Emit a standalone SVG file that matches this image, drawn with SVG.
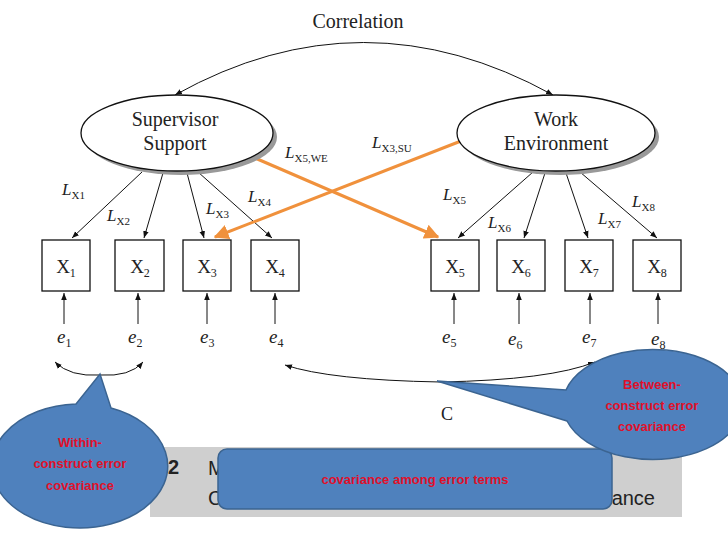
<svg xmlns="http://www.w3.org/2000/svg" width="728" height="546" viewBox="0 0 728 546">
<defs>
<marker id="a" viewBox="0 0 10 10" refX="10" refY="5" markerWidth="7" markerHeight="7" orient="auto-start-reverse"><path d="M0,1 L10,5 L0,9 z" fill="#111"/></marker>
<marker id="o" viewBox="0 0 10 10" refX="9" refY="5" markerWidth="5" markerHeight="5" orient="auto"><path d="M0,0 L10,5 L0,10 z" fill="#f0913c"/></marker>
</defs>
<style>
.s{font-family:"Liberation Serif",serif;fill:#222}
.i{font-style:italic}
.b{fill:#fff;stroke:#111;stroke-width:1.3}
.l{fill:none;stroke:#111;stroke-width:1;marker-end:url(#a)}
.c{fill:#4f81bd;stroke:#3b6491;stroke-width:1.5}
.r{font-family:"Liberation Sans",sans-serif;font-weight:bold;fill:#e0102a;font-size:13px}
</style>
<rect width="728" height="546" fill="#fff"/>
<text class="s" x="358" y="28" font-size="20" text-anchor="middle">Correlation</text>
<g id="connectors">
<path class="l" d="M175,95 Q363,-10 553,95" style="marker-start:url(#a)"/>
<path class="l" d="M142,172 L72,238"/>
<path class="l" d="M163,173 L144,238"/>
<path class="l" d="M187,173 L204,238"/>
<path class="l" d="M198,172 L272,238"/>
<path class="l" d="M533,172 L458,238"/>
<path class="l" d="M545,173 L524,238"/>
<path class="l" d="M566,173 L588,238"/>
<path class="l" d="M580,172 L657,238"/>
<path class="l" d="M64,324 L64,293"/><path class="l" d="M138,324 L138,293"/><path class="l" d="M207,324 L207,293"/><path class="l" d="M275,324 L275,293"/>
<path class="l" d="M454,324 L454,293"/><path class="l" d="M519,324 L519,293"/><path class="l" d="M590,324 L590,293"/><path class="l" d="M658,324 L658,293"/>
<path class="l" d="M100,375 Q70,377 55,362" /><path class="l" d="M100,375 Q130,377 143,362"/>
<path class="l" d="M440,382 Q330,380 285,365"/><path class="l" d="M440,382 Q550,380 595,362"/>
<path d="M255,158 L438,237" stroke="#f0913c" stroke-width="3" fill="none" marker-end="url(#o)"/>
<path d="M461,141 L215,237" stroke="#f0913c" stroke-width="3" fill="none" marker-end="url(#o)"/>
</g>
<g id="supervisor">
<ellipse cx="181" cy="137" rx="96" ry="38" fill="#999"/>
<ellipse cx="177" cy="133" rx="96" ry="38" class="b"/>
<text class="s" x="175" y="126" font-size="20" text-anchor="middle">Supervisor</text>
<text class="s" x="175" y="150" font-size="20" text-anchor="middle">Support</text>
</g>
<g id="work">
<ellipse cx="560" cy="137" rx="99" ry="38" fill="#999"/>
<ellipse cx="556" cy="133" rx="99" ry="38" class="b"/>
<text class="s" x="556" y="126" font-size="20" text-anchor="middle">Work</text>
<text class="s" x="556" y="150" font-size="20" text-anchor="middle">Environment</text>
</g>
<g class="s" font-size="17">
<text x="62" y="195" class="i">L<tspan font-size="11" font-style="normal" dy="4">X1</tspan></text>
<text x="107" y="221" class="i">L<tspan font-size="11" font-style="normal" dy="4">X2</tspan></text>
<text x="206" y="214" class="i">L<tspan font-size="11" font-style="normal" dy="4">X3</tspan></text>
<text x="248" y="202" class="i">L<tspan font-size="11" font-style="normal" dy="4">X4</tspan></text>
<text x="285" y="158" class="i">L<tspan font-size="11" font-style="normal" dy="4">X5,WE</tspan></text>
<text x="372" y="148" class="i">L<tspan font-size="11" font-style="normal" dy="4">X3,SU</tspan></text>
<text x="443" y="200" class="i">L<tspan font-size="11" font-style="normal" dy="4">X5</tspan></text>
<text x="488" y="228" class="i">L<tspan font-size="11" font-style="normal" dy="4">X6</tspan></text>
<text x="598" y="224" class="i">L<tspan font-size="11" font-style="normal" dy="4">X7</tspan></text>
<text x="632" y="207" class="i">L<tspan font-size="11" font-style="normal" dy="4">X8</tspan></text>
</g>
<g id="X1"><rect class="b" x="42" y="240" width="48" height="51"/><text class="s" x="66" y="273" font-size="19" text-anchor="middle">X<tspan font-size="12" dy="4">1</tspan></text></g>
<g id="X2"><rect class="b" x="115" y="240" width="49" height="51"/><text class="s" x="140" y="273" font-size="19" text-anchor="middle">X<tspan font-size="12" dy="4">2</tspan></text></g>
<g id="X3"><rect class="b" x="183" y="240" width="48" height="51"/><text class="s" x="207" y="273" font-size="19" text-anchor="middle">X<tspan font-size="12" dy="4">3</tspan></text></g>
<g id="X4"><rect class="b" x="251" y="240" width="48" height="51"/><text class="s" x="275" y="273" font-size="19" text-anchor="middle">X<tspan font-size="12" dy="4">4</tspan></text></g>
<g id="X5"><rect class="b" x="431" y="240" width="48" height="51"/><text class="s" x="455" y="273" font-size="19" text-anchor="middle">X<tspan font-size="12" dy="4">5</tspan></text></g>
<g id="X6"><rect class="b" x="497" y="240" width="48" height="51"/><text class="s" x="521" y="273" font-size="19" text-anchor="middle">X<tspan font-size="12" dy="4">6</tspan></text></g>
<g id="X7"><rect class="b" x="565" y="240" width="48" height="51"/><text class="s" x="589" y="273" font-size="19" text-anchor="middle">X<tspan font-size="12" dy="4">7</tspan></text></g>
<g id="X8"><rect class="b" x="633" y="240" width="48" height="51"/><text class="s" x="657" y="273" font-size="19" text-anchor="middle">X<tspan font-size="12" dy="4">8</tspan></text></g>
<g class="s" font-size="19" font-style="italic">
<text x="57" y="343">e<tspan font-size="12" font-style="normal" dy="4">1</tspan></text>
<text x="128" y="343">e<tspan font-size="12" font-style="normal" dy="4">2</tspan></text>
<text x="200" y="343">e<tspan font-size="12" font-style="normal" dy="4">3</tspan></text>
<text x="269" y="343">e<tspan font-size="12" font-style="normal" dy="4">4</tspan></text>
<text x="442" y="343">e<tspan font-size="12" font-style="normal" dy="4">5</tspan></text>
<text x="508" y="345">e<tspan font-size="12" font-style="normal" dy="4">6</tspan></text>
<text x="582" y="343">e<tspan font-size="12" font-style="normal" dy="4">7</tspan></text>
<text x="651" y="345">e<tspan font-size="12" font-style="normal" dy="4">8</tspan></text>
</g>
<text class="s" x="447" y="420" font-size="18" text-anchor="middle">C</text>
<rect x="150" y="447" width="532" height="70" fill="#cfcfcf"/>
<text x="168" y="474" font-family="Liberation Sans,sans-serif" font-weight="bold" font-size="20" fill="#222">2</text>
<text x="208" y="475" font-family="Liberation Sans,sans-serif" font-size="20" fill="#222">M</text>
<text x="208" y="505" font-family="Liberation Sans,sans-serif" font-size="20" fill="#222">C</text>
<text x="655" y="505" font-family="Liberation Sans,sans-serif" font-size="20" fill="#222" text-anchor="end">ance</text>
<g id="note"><rect class="c" x="218" y="449" width="394" height="60" rx="9"/><text class="r" x="415" y="484" text-anchor="middle">covariance among error terms</text></g>
<g id="within"><path class="c" d="M76,404 L100,374 L111,408 A88,62 0 1 1 76,404 Z"/>
<text class="r" x="80" y="447" text-anchor="middle">Within-</text><text class="r" x="80" y="468" text-anchor="middle">construct error</text><text class="r" x="80" y="490" text-anchor="middle">covariance</text></g>
<g id="between"><path class="c" d="M567,421 L437,381 L566,390 A90,55 0 1 1 567,421 Z"/>
<text class="r" x="652" y="389" text-anchor="middle">Between-</text><text class="r" x="652" y="410" text-anchor="middle">construct error</text><text class="r" x="652" y="431" text-anchor="middle">covariance</text></g>
</svg>
